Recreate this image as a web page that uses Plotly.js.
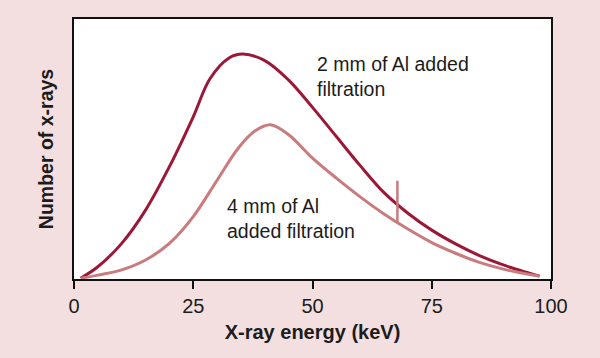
<!DOCTYPE html>
<html>
<head>
<meta charset="utf-8">
<script src="https://cdn.plot.ly/plotly-3.0.1.min.js"></script>
<style>html,body{margin:0;padding:0;background:#f3dfdf;}</style>
</head>
<body>
<div id="chart" style="width:600px;height:358px;"></div>
<script>
// X-ray energy (keV) and relative number of x-rays
const energy2mm = [1.4, 5, 10, 15, 20, 25, 28.5, 32.5, 35.4, 40, 45, 50, 55, 60, 65, 70, 75, 80, 85, 90, 95, 97.6];
const count2mm  = [0.3, 4.7, 13.7, 26.5, 43.2, 62.4, 77.0, 85.0, 86.5, 84.0, 76.5, 66.0, 54.8, 43.6, 33.2, 25.3, 18.8, 13.5, 9.0, 5.4, 2.5, 1.1];

const energy4mm = [1.5, 5, 10, 15, 20, 25, 30, 34.5, 38, 41.2, 45, 50, 55, 60, 65, 70, 75, 80, 85, 90, 95, 97.6];
const count4mm  = [0.3, 1.5, 3.5, 7.3, 13.7, 24.0, 38.0, 50.5, 57.0, 59.3, 55.5, 46.5, 38.8, 31.6, 25.0, 19.2, 14.0, 9.9, 6.4, 3.8, 1.9, 1.1];

// characteristic line on the 4 mm spectrum
const lineEnergy = [67.8, 67.8];
const lineCount  = [21.5, 37.8];

const xTicks = [0, 25, 50, 75, 100];
const label2mm = "2 mm of Al added<br>filtration";
const label4mm = "4 mm of Al<br>added filtration";

const dark = "#9c1838";
const light = "#c97b7d";

const traces = [
  {x: energy2mm, y: count2mm, mode: "lines", line: {color: dark, width: 3, shape: "spline", smoothing: 1}, hoverinfo: "skip"},
  {x: energy4mm, y: count4mm, mode: "lines", line: {color: light, width: 3, shape: "spline", smoothing: 1}, hoverinfo: "skip"},
  {x: lineEnergy, y: lineCount, mode: "lines", line: {color: light, width: 2.5}, hoverinfo: "skip"}
];

const font = {family: "Liberation Sans, Arial, sans-serif", color: "#1c1c1c"};

const layout = {
  width: 600, height: 358,
  margin: {l: 74, r: 49, t: 19, b: 79},
  paper_bgcolor: "#f3dfdf",
  plot_bgcolor: "#ffffff",
  showlegend: false,
  font: Object.assign({size: 19}, font),
  xaxis: {
    range: [0, 100], tickvals: xTicks, ticktext: xTicks.map(String),
    ticks: "outside", ticklen: 8, tickwidth: 2, tickcolor: "#111",
    showline: true, linecolor: "#111", linewidth: 2, mirror: true,
    showgrid: false, zeroline: false,
    tickfont: Object.assign({size: 20}, font),
    title: {text: "X-ray energy (keV)", font: Object.assign({size: 20, weight: "bold"}, font), standoff: 9}
  },
  yaxis: {
    range: [0, 100], showticklabels: false, ticks: "",
    showline: true, linecolor: "#111", linewidth: 2, mirror: true,
    showgrid: false, zeroline: false,
    title: {text: "Number of x-rays", font: Object.assign({size: 19.5, weight: "bold"}, font), standoff: 13}
  },
  annotations: [
    {x: 50.6, y: 78, xref: "x", yref: "y", text: label2mm, showarrow: false, xanchor: "left", yanchor: "middle", align: "left", font: Object.assign({size: 19.5}, font)},
    {x: 31.6, y: 23.4, xref: "x", yref: "y", text: label4mm, showarrow: false, xanchor: "left", yanchor: "middle", align: "left", font: Object.assign({size: 19.5}, font)}
  ]
};

Plotly.newPlot("chart", traces, layout, {displayModeBar: false, staticPlot: true});
</script>
</body>
</html>
